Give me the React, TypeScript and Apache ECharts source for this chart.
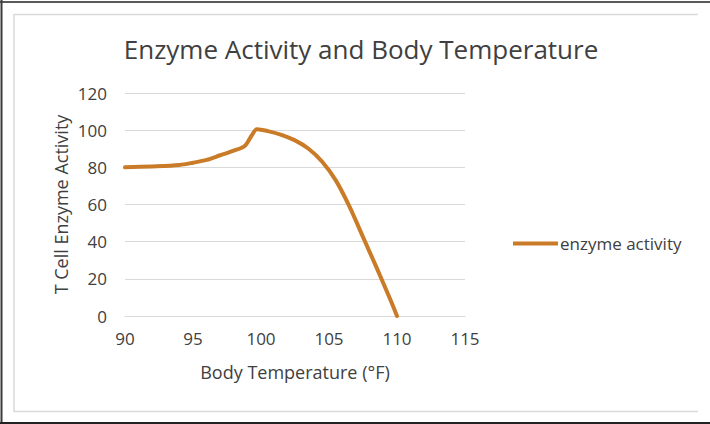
import React, { useEffect, useRef } from "react";
import * as echarts from "echarts";

// Body temperature (°F) and the matching T cell enzyme activity
const temperatures = [
  90, 92, 94, 95, 96, 97, 98, 98.8, 99.3, 99.7, 100.5, 101.5, 102.5, 103.5,
  104.5, 105.5, 106.5, 107.5, 108.5, 109.5, 110,
];
const activity = [
  80, 80.5, 81.3, 82.5, 84, 86.5, 89, 91.5, 97, 100.5, 99.5, 97.5, 94.5, 90,
  83, 73, 59, 42.5, 26, 9, 0,
];

const chartTitle = "Enzyme Activity and Body Temperature";
const xTitle = "Body Temperature (°F)";
const yTitle = "T Cell Enzyme Activity";
const seriesName = "enzyme activity";

const FONT = "'Open Sans', 'Noto Sans', sans-serif";
const LINE_COLOR = "#C97B27";
const TEXT_COLOR = "#404040";

export default function App() {
  const ref = useRef<HTMLDivElement>(null);

  useEffect(() => {
    document.body.style.margin = "0";
    if (!ref.current) return;
    const chart = echarts.init(ref.current, undefined, { renderer: "svg" });
    chart.setOption({
      animation: false,
      backgroundColor: "#ffffff",
      textStyle: { fontFamily: FONT },
      grid: { left: 125, right: 245, top: 93, bottom: 108, containLabel: false },
      graphic: [
        // outer frame (top, left, bottom)
        { type: "line", shape: { x1: 0, y1: 2, x2: 710, y2: 2 }, style: { stroke: "#5a5a5a", lineWidth: 2 } },
        { type: "line", shape: { x1: 1.5, y1: 0, x2: 1.5, y2: 424 }, style: { stroke: "#3a3a3a", lineWidth: 2 } },
        { type: "line", shape: { x1: 0, y1: 423, x2: 710, y2: 423 }, style: { stroke: "#222222", lineWidth: 2 } },
        // inner chart border
        { type: "line", shape: { x1: 14, y1: 14.5, x2: 698, y2: 14.5 }, style: { stroke: "#d9d9d9", lineWidth: 1.5 } },
        { type: "line", shape: { x1: 14, y1: 14, x2: 14, y2: 412 }, style: { stroke: "#d9d9d9", lineWidth: 1.5 } },
        { type: "line", shape: { x1: 14, y1: 411.5, x2: 698, y2: 411.5 }, style: { stroke: "#d9d9d9", lineWidth: 1.5 } },
        {
          type: "text",
          x: 361,
          y: 49,
          style: {
            text: chartTitle,
            fontFamily: FONT,
            fontSize: 26,
            fill: "#404040",
            textAlign: "center",
            textVerticalAlign: "middle",
          },
        },
      ],
      legend: {
        show: true,
        left: 508,
        top: 230,
        icon: "rect",
        itemWidth: 45,
        itemHeight: 4,
        itemGap: 10,
        textStyle: { fontFamily: FONT, fontSize: 17, color: TEXT_COLOR, padding: [0, 0, 0, -3] },
        data: [seriesName],
      },
      xAxis: {
        type: "value",
        min: 90,
        max: 115,
        interval: 5,
        name: xTitle,
        nameLocation: "middle",
        nameGap: 47,
        nameTextStyle: { fontFamily: FONT, fontSize: 18, color: TEXT_COLOR },
        axisLine: { show: true, lineStyle: { color: "#d9d9d9", width: 1 } },
        axisTick: { show: false },
        splitLine: { show: false },
        axisLabel: { fontFamily: FONT, fontSize: 17, color: TEXT_COLOR, margin: 14 },
      },
      yAxis: {
        type: "value",
        min: 0,
        max: 120,
        interval: 20,
        name: yTitle,
        nameLocation: "middle",
        nameGap: 55,
        nameTextStyle: { fontFamily: FONT, fontSize: 18, color: TEXT_COLOR },
        axisLine: { show: false },
        axisTick: { show: false },
        splitLine: { show: true, lineStyle: { color: "#d9d9d9", width: 1 } },
        axisLabel: { fontFamily: FONT, fontSize: 17, color: TEXT_COLOR, margin: 18 },
      },
      series: [
        {
          name: seriesName,
          type: "line",
          data: temperatures.map((t, i) => [t, activity[i]]),
          smooth: 0.3,
          showSymbol: false,
          symbol: "none",
          lineStyle: { color: LINE_COLOR, width: 4, cap: "round", join: "round" },
          itemStyle: { color: LINE_COLOR },
        },
      ],
    });
    return () => chart.dispose();
  }, []);

  return <div ref={ref} style={{ width: 710, height: 424 }} />;
}
